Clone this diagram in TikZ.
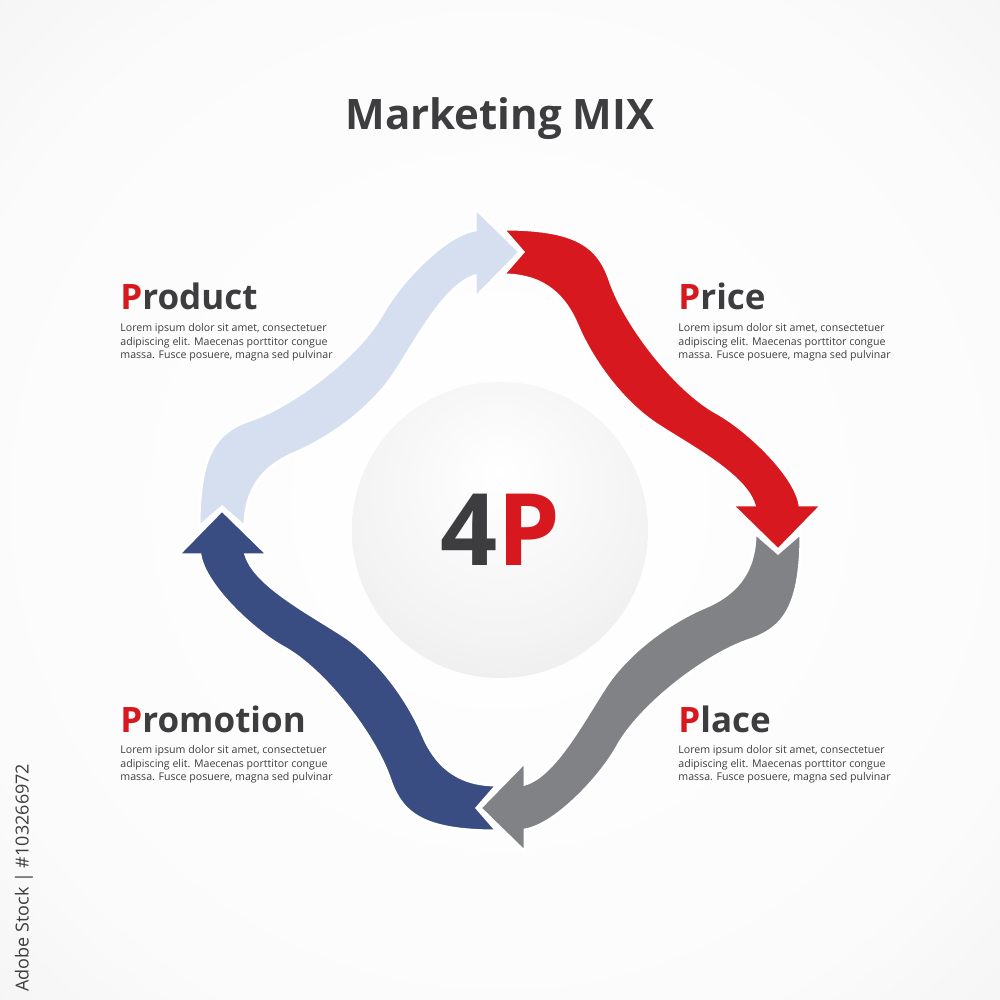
\documentclass[tikz,border=0pt]{standalone}
\usepackage{fontspec}
\setmainfont{Open Sans}
\definecolor{lblue}{HTML}{D5DFEF}
\definecolor{mred}{HTML}{D7191F}
\definecolor{mgray}{HTML}{808285}
\definecolor{dblue}{HTML}{3A4D83}
\definecolor{textdark}{HTML}{3D3D3F}
\definecolor{bgedge}{HTML}{D9D9D9}
\definecolor{bgmid}{HTML}{FBFBFB}
\definecolor{ballmid}{HTML}{F3F3F3}
\definecolor{balledge}{HTML}{E0E0E0}
\pgfdeclareradialshading{bgshade}{\pgfpoint{0bp}{0bp}}{color(0bp)=(white); color(28bp)=(bgmid); color(72bp)=(bgedge)}
\pgfdeclareradialshading{ballshade}{\pgfpoint{0bp}{10bp}}{color(0bp)=(white); color(25bp)=(ballmid); color(50bp)=(balledge); color(62bp)=(balledge)}
\newcommand\mmArrow[2]{%
\begin{scope}[shift={(500,470)},rotate=#2]
\fill[#1, arrowedge] (-278,23) -- (-301,3)
  .. controls (-301,75) and (-285,98) .. (-250,110)
  .. controls (-205,125) and (-139.6,176.4) .. (-117.6,216.4)
  .. controls (-100.6,247.4) and (-55,295.5) .. (-25,300)
  -- (-25,322) -- (20,278) -- (-25,232) -- (-25,254)
  .. controls (-55,245) and (-83.4,190.2) .. (-105.4,156.6)
  .. controls (-127.4,123) and (-168,92.6) .. (-205,77)
  .. controls (-232.6,65.3) and (-255,45) .. (-255,3) -- cycle;
\end{scope}}
\tikzset{
 titletext/.style={font=\fontsize{21}{25}\selectfont\bfseries, text=textdark, inner sep=0},
 heading/.style={anchor=base west, inner sep=0, font=\fontsize{17.5}{21}\selectfont\bfseries, text=textdark},
 body/.style={anchor=base west, inner sep=0, align=left, font=\fontsize{5.3}{6.85}\selectfont, text=textdark},
 hub/.style={circle, minimum size=148pt, inner sep=0, shade, shading=ballshade, font=\fontsize{50}{50}\selectfont\bfseries, text=textdark},
 arrowedge/.style={draw=white, line width=1.5pt, line join=miter},
 stockid/.style={rotate=90, anchor=west, inner sep=0, font=\fontsize{9}{10}\selectfont, text=textdark}
}
\begin{document}
\begin{tikzpicture}[x=0.5pt,y=0.5pt]
\useasboundingbox (0,0) rectangle (1000,1000);
\shade[shading=bgshade] (0,0) rectangle (1000,1000);
\node[titletext, anchor=base] (title) at (500,870) {Marketing MIX};
\node[hub] (hub) at (500,470) {4\textcolor{mred}{P}};
\mmArrow{lblue}{0}
\mmArrow{mred}{-90}
\mmArrow{mgray}{180}
\mmArrow{dblue}{90}
\node[heading] (product) at (120,690) {\textcolor{mred}{P}roduct};
\node[body] (producttext) at (120,641) {Lorem ipsum dolor sit amet, consectetuer\\adipiscing elit. Maecenas porttitor congue\\massa. Fusce posuere, magna sed pulvinar};
\node[heading] (price) at (678,690) {\textcolor{mred}{P}rice};
\node[body] (pricetext) at (678,641) {Lorem ipsum dolor sit amet, consectetuer\\adipiscing elit. Maecenas porttitor congue\\massa. Fusce posuere, magna sed pulvinar};
\node[heading] (promotion) at (120,267) {\textcolor{mred}{P}romotion};
\node[body] (promotiontext) at (120,219) {Lorem ipsum dolor sit amet, consectetuer\\adipiscing elit. Maecenas porttitor congue\\massa. Fusce posuere, magna sed pulvinar};
\node[heading] (place) at (678,267) {\textcolor{mred}{P}lace};
\node[body] (placetext) at (678,219) {Lorem ipsum dolor sit amet, consectetuer\\adipiscing elit. Maecenas porttitor congue\\massa. Fusce posuere, magna sed pulvinar};
\node[stockid] (stock) at (24,8) {Adobe Stock | \#103266972};
\end{tikzpicture}
\end{document}
